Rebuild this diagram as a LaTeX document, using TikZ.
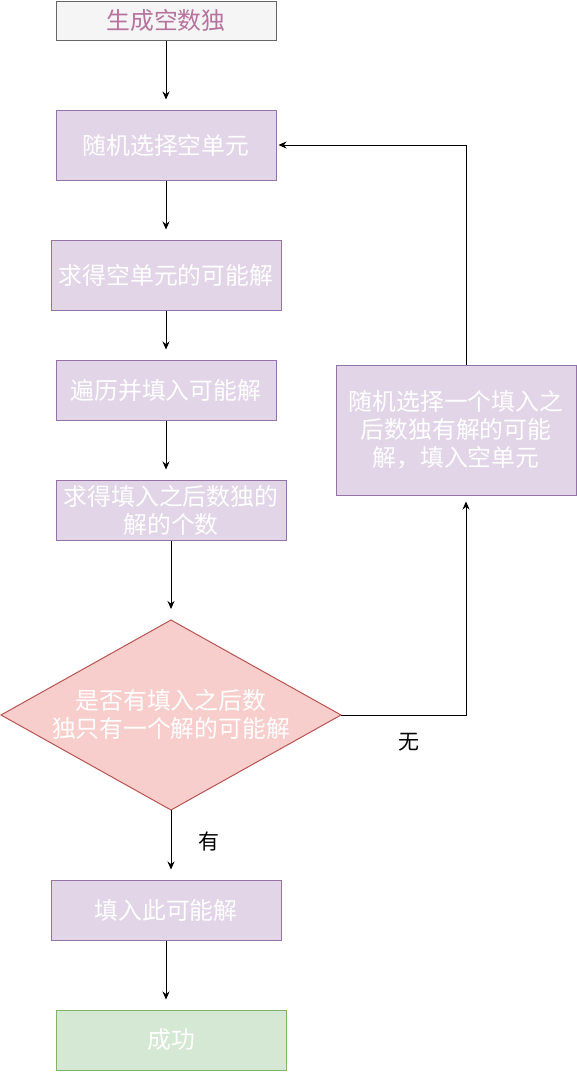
\documentclass[tikz,border=0pt]{standalone}
\usepackage{fontspec}
\setmainfont{Noto Sans CJK SC}
\usetikzlibrary{arrows.meta}
\definecolor{greyfill}{HTML}{F5F5F5}
\definecolor{greyline}{HTML}{666666}
\definecolor{toptext}{HTML}{B5739D}
\definecolor{purfill}{HTML}{E1D5E7}
\definecolor{purline}{HTML}{9673A6}
\definecolor{redfill}{HTML}{F8CECC}
\definecolor{redline}{HTML}{B85450}
\definecolor{grnfill}{HTML}{D5E8D4}
\definecolor{grnline}{HTML}{82B366}
\tikzset{
  boxbase/.style={rectangle, inner sep=0pt, line width=1pt, align=center,
    font=\fontsize{23.8}{28}\selectfont},
  topbox/.style={boxbase, fill=greyfill, draw=greyline, text=toptext},
  purbox/.style={boxbase, fill=purfill, draw=purline, text=white},
  grnbox/.style={boxbase, fill=grnfill, draw=grnline, text=white},
  dectext/.style={inner sep=0pt, align=center, text=white, font=\fontsize{23.8}{28}\selectfont},
  decshape/.style={fill=redfill, draw=redline, line width=1pt, line join=miter},
  conn/.style={line width=1pt, -{Stealth[length=8pt,width=7pt]}},
  lbl/.style={font=\fontsize{21}{24}\selectfont, text=black, inner sep=0pt}
}
\begin{document}
\begin{tikzpicture}[x=1pt,y=-1pt]
\useasboundingbox (0,0) rectangle (577,1072);
\node[topbox, minimum width=220pt, minimum height=39pt] (start) at (166,20.5) {生成空数独};
\node[purbox, minimum width=220pt, minimum height=70pt] (pick) at (166,145) {随机选择空单元};
\node[purbox, minimum width=230pt, minimum height=70pt] (solve) at (166,275) {求得空单元的可能解};
\node[purbox, minimum width=220pt, minimum height=60pt] (iter) at (166,390) {遍历并填入可能解};
\node[purbox, minimum width=230pt, minimum height=60pt] (count) at (171,510) {求得填入之后数独的\\解的个数};
\coordinate (dtop) at (171,620);
\coordinate (dright) at (341,715);
\coordinate (dbot) at (171,810);
\coordinate (dleft) at (1,715);
\draw[decshape] (dtop) -- (dright) -- (dbot) -- (dleft) -- cycle;
\node[dectext] (dec) at (171,714) {是否有填入之后数\\独只有一个解的可能解};
\node[purbox, minimum width=230pt, minimum height=60pt] (fill) at (166,910) {填入此可能解};
\node[grnbox, minimum width=230pt, minimum height=60pt] (done) at (171,1040) {成功};
\node[purbox, minimum width=240pt, minimum height=130pt] (rand) at (456,430) {随机选择一个填入之\\后数独有解的可能\\解，填入空单元};
\coordinate (c1) at (466,715);
\coordinate (c2) at (466,145);
\draw[conn, shorten >=10pt] (start.south) -- (pick.north);
\draw[conn, shorten >=10pt] (pick.south) -- (solve.north);
\draw[conn, shorten >=10pt] (solve.south -| pick.south) -- (iter.north);
\draw[conn, shorten >=10pt] (iter.south) -- (iter.south |- count.north);
\draw[conn, shorten >=11pt] (count.south) -- (dtop);
\draw[conn, shorten >=10pt] (dbot) -- (dbot |- fill.north);
\draw[conn, shorten >=10pt] (fill.south) -- (fill.south |- done.north);
\draw[conn, shorten >=6pt] (dright) -- (c1) -- (c1 |- rand.south);
\draw[conn, shorten >=2pt] (rand.north -| c1) -- (c2) -- (pick.east);
\node[lbl] (no) at (409,742) {无};
\node[lbl] (yes) at (209,841) {有};
\end{tikzpicture}
\end{document}
